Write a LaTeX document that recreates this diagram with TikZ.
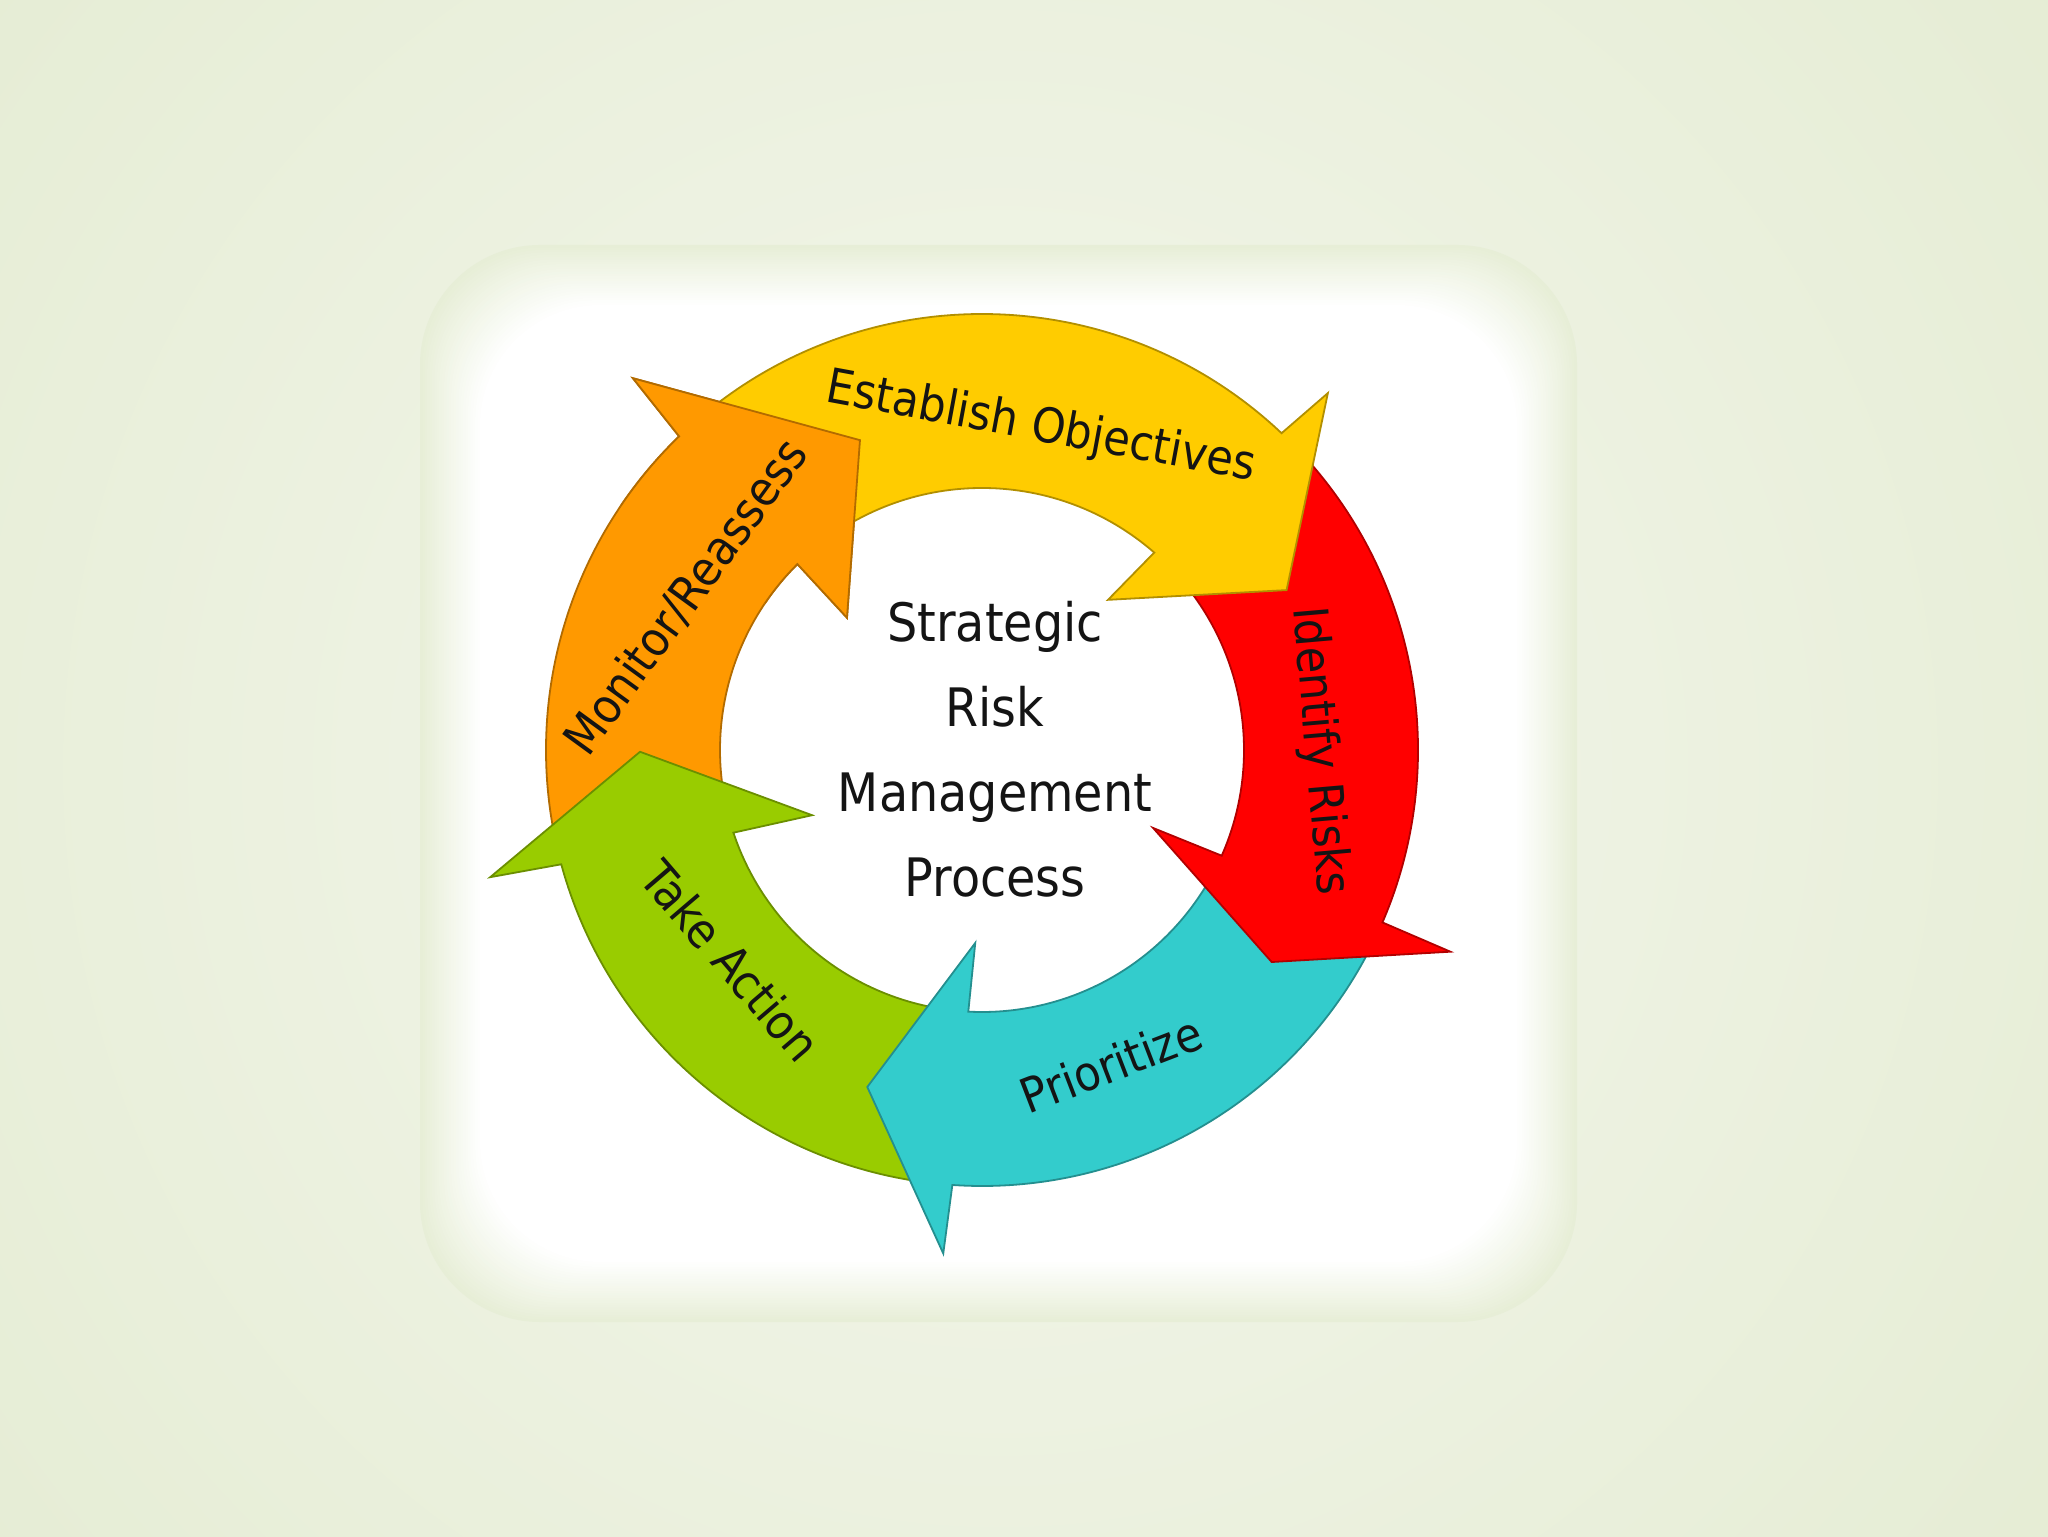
\documentclass[tikz,border=0pt]{standalone}
\usepackage{fontspec}
\setmainfont{DejaVu Sans}[FakeStretch=0.9]
\definecolor{bggreen}{RGB}{216,227,190}
\definecolor{bglight}{RGB}{244,247,237}
\definecolor{ringbase}{RGB}{231,238,215}
\definecolor{cyellow}{RGB}{255,204,0}
\definecolor{cred}{RGB}{255,0,0}
\definecolor{cteal}{RGB}{51,204,204}
\definecolor{cgreen}{RGB}{153,204,0}
\definecolor{corange}{RGB}{255,153,0}
\definecolor{txt}{RGB}{20,20,20}
\tikzset{
  arrowshape/.style={fill=#1, draw=#1!70!black, line width=0.9pt, line join=miter},
  lbl/.style={font=\fontsize{24}{28}\selectfont, text=txt, inner sep=0pt},
  ctr/.style={font=\fontsize{26.5}{42.5}\selectfont, text=txt, align=center, inner sep=0pt}
}
\begin{document}
\begin{tikzpicture}[x=0.5pt,y=0.5pt]
\useasboundingbox (0,0) rectangle (2048,1536);
% background
\fill[bggreen] (0,0) rectangle (2048,1536);
\begin{scope}
  \clip (0,0) rectangle (2048,1536);
  \shade[inner color=bglight, outer color=bggreen] (1000,768) circle (2500);
  \foreach \k in {0,...,25}{
    \pgfmathsetmacro{\pct}{4*\k}
    \fill[white!\pct!ringbase, rounded corners=60] (420+2.4*\k,214+2.4*\k) rectangle (1577-2.4*\k,1291-2.4*\k);
  }
\end{scope}
% arrows
\begin{scope}[shift={(982,786)}]
  % orange
  \path[arrowshape=corange] (192:436) arc[start angle=192, end angle=134, radius=436] -- (133.2:510) -- (111.5:333) -- (135.6:189) -- (134.8:262) arc[start angle=134.8, end angle=192, radius=262] -- cycle;
  % green
  \path[arrowshape=cgreen] (263:436) arc[start angle=263, end angle=195.2, radius=436] -- (194.5:508) -- (180.3:342) -- (201:182) -- (198.4:262) arc[start angle=198.4, end angle=263, radius=262] -- cycle;
  % teal
  \path[arrowshape=cteal] (334:436) arc[start angle=334, end angle=266.1, radius=436] -- (265.6:505) -- (251.2:356) -- (268:193) -- (267:262) arc[start angle=267, end angle=334, radius=262] -- cycle;
  % red
  \path[arrowshape=cred] (43:436) arc[start angle=43, end angle=-23.3, radius=436] -- (-23.3:510) -- (-36.2:359) -- (-24.5:188) -- (-23.8:262) arc[start angle=-23.8, end angle=43, radius=262] -- cycle;
  % yellow
  \path[arrowshape=cyellow] (130:436) arc[start angle=130, end angle=46.6, radius=436] -- (45.9:497) -- (27.7:344) -- (50:196) -- (48.9:262) arc[start angle=48.9, end angle=130, radius=262] -- cycle;
  % orange head again, over the yellow tail
  \begin{scope}
    \clip (0,0) -- (146:700) arc[start angle=146, end angle=100, radius=700] -- cycle;
    \path[arrowshape=corange] (192:436) arc[start angle=192, end angle=134, radius=436] -- (133.2:510) -- (111.5:333) -- (135.6:189) -- (134.8:262) arc[start angle=134.8, end angle=192, radius=262] -- cycle;
  \end{scope}
\end{scope}
% labels
\node[lbl, rotate=-10.5] (estab) at (1041,1108) {Establish Objectives};
\node[lbl, rotate=-85] (ident) at (1319,785) {Identify Risks};
\node[lbl, rotate=21] (prio) at (1111,472) {Prioritize};
\node[lbl, rotate=-49.5] (take) at (731,575) {Take Action};
\node[lbl, rotate=54] (monit) at (686,939) {Monitor/Reassess};
\node[ctr] (center) at (995,787) {Strategic\\Risk\\Management\\Process};
\end{tikzpicture}
\end{document}
